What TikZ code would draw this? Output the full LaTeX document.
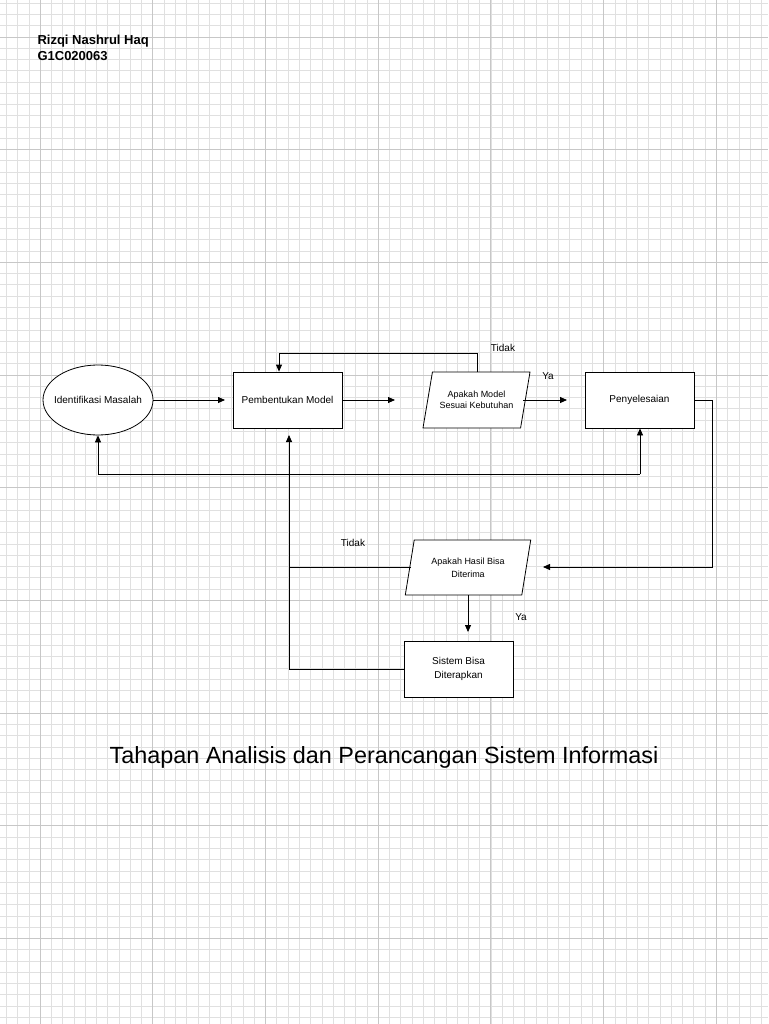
\documentclass[tikz,border=0pt]{standalone}
\usepackage{fontspec}
\setmainfont{Liberation Sans}
\usetikzlibrary{shapes.geometric,arrows.meta}
\begin{document}
\begin{tikzpicture}[x=1pt,y=-1pt,
 box/.style={draw,thick,minimum width=109pt,minimum height=56pt,font=\fontsize{10}{12}\selectfont,align=center,fill=white},
 par/.style={draw,thick,trapezium,trapezium left angle=72,trapezium right angle=108,minimum height=56pt,fill=white,font=\fontsize{9}{11}\selectfont,align=center,inner xsep=0pt},
 ar/.style={thick,-{Triangle[length=7pt,width=6pt]}},
 ln/.style={thick},
 lbl/.style={font=\fontsize{10}{12}\selectfont}]
\useasboundingbox (0,0) rectangle (768,1024);
\fill[white] (0,0) rectangle (768,1024);
\foreach \i in {0,...,70} {\draw[black!12,line width=0.6pt] ({-5+11.27*\i},0) -- ({-5+11.27*\i},1024);}
\foreach \i in {0,...,92} {\draw[black!12,line width=0.6pt] (0,{3+11.27*\i}) -- (768,{3+11.27*\i});}
\foreach \i in {0,...,7} {\draw[black!22,line width=0.9pt] ({40+112.7*\i},0) -- ({40+112.7*\i},1024);}
\foreach \i in {0,...,9} {\draw[black!22,line width=0.9pt] (0,{37+112.7*\i}) -- (768,{37+112.7*\i});}
\node[anchor=north west,font=\bfseries\fontsize{13}{16}\selectfont,align=left] (nm) at (34,32) {Rizqi Nashrul Haq\\G1C020063};
\node[draw,thick,ellipse,minimum width=110pt,minimum height=70pt,inner sep=0pt,fill=white] (im) at (98,400) {};
\node[font=\fontsize{10}{12}\selectfont,inner sep=0pt] (imt) at (im.center) {Identifikasi Masalah};
\node[box] (pm) at (287.5,400) {Pembentukan Model};
\node[par,minimum width=108pt,trapezium stretches=true] (am) at (476.5,400) {Apakah Model\\Sesuai Kebutuhan};
\node[box] (py) at (639.5,400) {Penyelesaian};
\node[par,minimum width=126pt,minimum height=55pt,trapezium stretches=true,trapezium left angle=77,trapezium right angle=103] (ah) at (468,567.5) {Apakah Hasil Bisa\\[2pt]Diterima};
\node[box] (sb) at (458.5,669) {Sistem Bisa\\[2pt]Diterapkan};
\node[font=\fontsize{23.4}{28}\selectfont] (tt) at (384,757) {Tahapan Analisis dan Perancangan Sistem Informasi};
\coordinate (c1) at (225,400);
\coordinate (c2) at (395,400);
\coordinate (c3) at (567,400);
\coordinate (c4) at (543,567);
\coordinate (c5) at (468,632);
\draw[ar] (im.east) -- (c1);
\draw[ar] (pm.east) -- (c2);
\draw[ar] (523,400) -- (c3);
\draw[ar] (477,372) -- (477,353) -- (279,353) -- (pm.north -| 279,0);
\draw[ar] (640,474) -- (py.south -| 640,0);
\draw[ar] (640,474) -- (98,474) -- (im.south);
\draw[ar] (py.east) -- (712,400) -- (712,567) -- (c4);
\draw[ar] (ah.south -| 468,0) -- (c5);
\draw[ar] (sb.west) -- (289,669) -- (289,435);
\draw[ln] (411,567) -- (289,567);
\node[lbl] (t1) at (503,348) {Tidak};
\node[lbl] (y1) at (548,376) {Ya};
\node[lbl] (t2) at (353,543) {Tidak};
\node[lbl] (y2) at (521,617) {Ya};
\end{tikzpicture}
\end{document}
